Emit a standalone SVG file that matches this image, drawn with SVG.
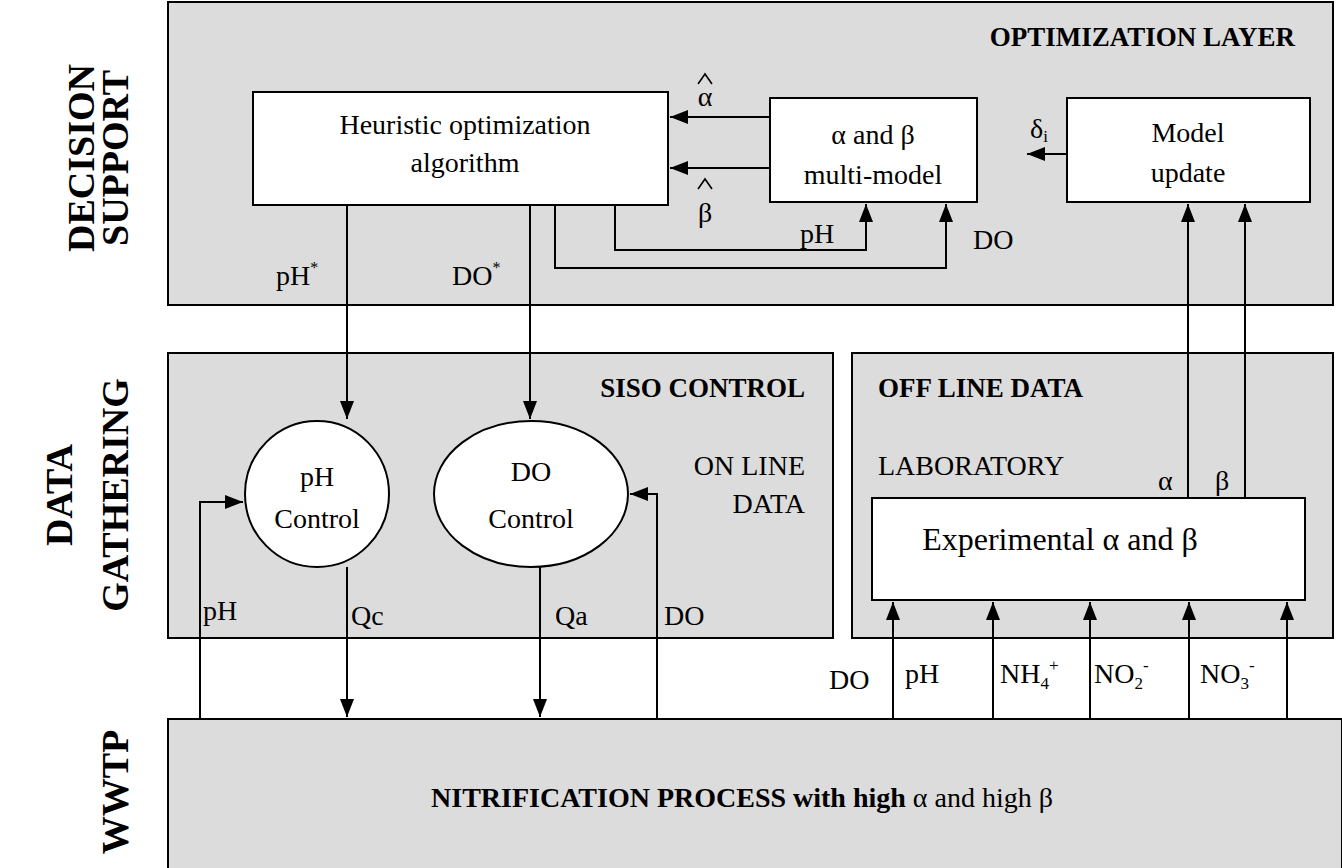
<svg xmlns="http://www.w3.org/2000/svg" width="1342" height="868" viewBox="0 0 1342 868">
<defs>
<marker id="ah" viewBox="0 0 18 14" refX="18" refY="7" markerWidth="18" markerHeight="14" markerUnits="userSpaceOnUse" orient="auto"><path d="M0,0 L18,7 L0,14 z" fill="#000"/></marker>
<style>
.p{fill:#dcdcdc;stroke:#000;stroke-width:2}
.b{fill:#fff;stroke:#000;stroke-width:2}
.c{fill:none;stroke:#000;stroke-width:2;marker-end:url(#ah)}
.hat{fill:none;stroke:#000;stroke-width:1.6}
text{font-family:"Liberation Serif","DejaVu Serif",serif;fill:#000}
.t{font-size:28px}
.h{font-size:27px;font-weight:bold}
.s{font-size:38px;font-weight:bold}
</style>
</defs>
<rect width="1342" height="868" fill="#fff"/>
<g id="side">
<text class="s" transform="translate(94,158) rotate(-90)" text-anchor="middle">DECISION</text>
<text class="s" transform="translate(128,158) rotate(-90)" text-anchor="middle">SUPPORT</text>
<text class="s" transform="translate(72,495) rotate(-90)" text-anchor="middle">DATA</text>
<text class="s" transform="translate(128,495) rotate(-90)" text-anchor="middle">GATHERING</text>
<text class="s" transform="translate(128,792) rotate(-90)" text-anchor="middle">WWTP</text>
</g>
<g id="optlayer"><rect class="p" x="168" y="2" width="1165" height="303"/><text class="h" x="1295" y="46" text-anchor="end">OPTIMIZATION LAYER</text></g>
<g id="siso"><rect class="p" x="168" y="353" width="665" height="285"/><text class="h" x="805" y="397" text-anchor="end">SISO CONTROL</text>
<text class="t" x="805" y="475" text-anchor="end">ON LINE</text><text class="t" x="805" y="513" text-anchor="end">DATA</text></g>
<g id="offline"><rect class="p" x="852" y="353" width="481" height="285"/><text class="h" x="878" y="397">OFF LINE DATA</text>
<text class="t" x="878" y="475">LABORATORY</text></g>
<g id="wwtp"><rect class="p" x="168" y="719" width="1174" height="152"/><text x="742" y="807" text-anchor="middle" font-size="28"><tspan font-weight="bold">NITRIFICATION PROCESS with high </tspan>α and high β</text></g>
<g id="heuristic"><rect class="b" x="253" y="92" width="415" height="113"/><text class="t" x="465" y="134" text-anchor="middle">Heuristic optimization</text><text class="t" x="465" y="172" text-anchor="middle">algorithm</text></g>
<g id="multimodel"><rect class="b" x="770" y="98" width="207" height="104"/><text class="t" x="873" y="144" text-anchor="middle">α and β</text><text class="t" x="873" y="184" text-anchor="middle">multi-model</text></g>
<g id="modelupdate"><rect class="b" x="1067" y="98" width="243" height="104"/><text class="t" x="1188" y="142" text-anchor="middle">Model</text><text class="t" x="1188" y="182" text-anchor="middle">update</text></g>
<g id="experimental"><rect class="b" x="872" y="498" width="433" height="102"/><text x="1060" y="550" text-anchor="middle" font-size="32">Experimental α and β</text></g>
<g id="phcontrol"><ellipse class="b" cx="317" cy="494" rx="72" ry="73"/><text class="t" x="317" y="486" text-anchor="middle">pH</text><text class="t" x="317" y="528" text-anchor="middle">Control</text></g>
<g id="docontrol"><ellipse class="b" cx="531" cy="494" rx="97" ry="73"/><text class="t" x="531" y="481" text-anchor="middle">DO</text><text class="t" x="531" y="528" text-anchor="middle">Control</text></g>
<g id="connectors">
<path class="c" d="M770,117 H670"/>
<path class="c" d="M770,168 H670"/>
<path class="c" d="M1067,154 H1027"/>
<path class="c" d="M615,205 V250 H866 V204"/>
<path class="c" d="M555,205 V268 H946 V204"/>
<path class="c" d="M347,205 V419"/>
<path class="c" d="M530,205 V419"/>
<path class="c" d="M1188,498 V204"/>
<path class="c" d="M1245,498 V204"/>
<path class="c" d="M200,719 V502 H243"/>
<path class="c" d="M657,719 V494 H630"/>
<path class="c" d="M347,567 V717"/>
<path class="c" d="M540,567 V717"/>
<path class="c" d="M893,719 V602"/>
<path class="c" d="M993,719 V602"/>
<path class="c" d="M1090,719 V602"/>
<path class="c" d="M1189,719 V602"/>
<path class="c" d="M1287,719 V602"/>
</g>
<g id="labels">
<text class="t" x="705" y="106" text-anchor="middle">α</text><path class="hat" d="M698,84 L705,74 L712,84"/>
<text class="t" x="705" y="222" text-anchor="middle">β</text><path class="hat" d="M698,189 L705,179 L712,189"/>
<text class="t" x="1030" y="138">δ<tspan font-size="17" dy="4">i</tspan></text>
<text class="t" x="800" y="243">pH</text>
<text class="t" x="973" y="249">DO</text>
<text class="t" x="276" y="285">pH<tspan font-size="16" dy="-12">*</tspan></text>
<text class="t" x="452" y="285">DO<tspan font-size="16" dy="-12">*</tspan></text>
<text class="t" x="203" y="620">pH</text>
<text class="t" x="351" y="625">Qc</text>
<text class="t" x="555" y="625">Qa</text>
<text class="t" x="664" y="625">DO</text>
<text class="t" x="1158" y="490">α</text>
<text class="t" x="1215" y="490">β</text>
<text class="t" x="829" y="689">DO</text>
<text class="t" x="905" y="683">pH</text>
<text class="t" x="1000" y="683">NH<tspan font-size="17" dy="6">4</tspan><tspan font-size="17" dy="-18">+</tspan></text>
<text class="t" x="1094" y="683">NO<tspan font-size="17" dy="6">2</tspan><tspan font-size="17" dy="-18">-</tspan></text>
<text class="t" x="1200" y="683">NO<tspan font-size="17" dy="6">3</tspan><tspan font-size="17" dy="-18">-</tspan></text>
</g>
</svg>
